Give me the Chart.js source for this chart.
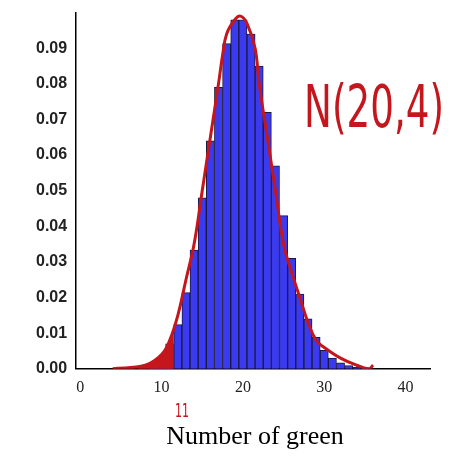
<!DOCTYPE html>
<html><head><meta charset="utf-8">
<script src="https://cdn.jsdelivr.net/npm/chart.js@4"></script>
<style>body{margin:0;background:#fff}#wrap{width:474px;height:458px}</style>
</head><body><div id="wrap"><canvas id="c"></canvas></div>
<script>
// histogram bins (number of green) and their proportions
const bins = [9,10,11,12,13,14,15,16,17,18,19,20,21,22,23,24,25,26,27,28,29,30,31,32,33,34,35];
const freq = [0.001,0.003,0.007,0.0124,0.0214,0.0333,0.048,0.064,0.079,0.0913,0.098,0.098,0.094,0.085,0.072,0.057,0.043,0.031,0.021,0.014,0.0088,0.0052,0.003,0.0017,0.0009,0.0004,0.0002];
// hand-drawn normal curve
const curveX = [4,8,10,11,12,13,14,15,16,17,17.5,18,19,19.7,20.5,21.5,22,23,24,25,26,27,28,29,30,32,34,35.5,36];
const curveY = [0,0.001,0.004,0.008,0.015,0.025,0.035,0.05,0.065,0.08,0.088,0.094,0.098,0.099,0.097,0.09,0.08,0.065,0.05,0.035,0.027,0.02,0.013,0.008,0.006,0.003,0.001,0,0.001];
const yTicks = [0,0.01,0.02,0.03,0.04,0.05,0.06,0.07,0.08,0.09];

function squeezed(c, text, x, y, w) {
  const m = c.measureText(text).width;
  c.save(); c.translate(x, y); c.scale(w / m, 1); c.fillText(text, 0, 0); c.restore();
}

const annot = {
  id: 'annot',
  afterDraw(chart) {
    const c = chart.ctx, xs = chart.scales.x, ys = chart.scales.y;
    c.save();
    // red shaded tail
    c.fillStyle = '#c4161c';
    c.beginPath();
    c.moveTo(xs.getPixelForValue(7), ys.getPixelForValue(0));
    for (let i = 0; i < curveX.length; i++) {
      if (curveX[i] >= 7 && curveX[i] <= 11) c.lineTo(xs.getPixelForValue(curveX[i]), ys.getPixelForValue(curveY[i]));
    }
    c.lineTo(xs.getPixelForValue(11.5), ys.getPixelForValue(0.011));
    c.lineTo(xs.getPixelForValue(11.5), ys.getPixelForValue(0));
    c.closePath(); c.fill();
    c.font = '58px "DejaVu Sans", sans-serif';
    c.textAlign = 'left'; c.textBaseline = 'middle';
    squeezed(c, 'N(20,4)', 304, 112, 140);
    c.font = '20px "DejaVu Sans", sans-serif';
    squeezed(c, '11', 175, 412, 14);
    c.fillStyle = '#000';
    c.font = '26px "Liberation Serif", serif';
    c.textAlign = 'center';
    c.fillText('Number of green', 255, 437);
    c.restore();
  }
};

new Chart(document.getElementById('c'), {
  data: {
    datasets: [{
      type: 'line',
      data: curveX.map((x, i) => ({x, y: curveY[i]})),
      borderColor: '#c4161c', borderWidth: 3, pointRadius: 0, tension: 0.4, order: 0
    }, {
      type: 'bar',
      data: bins.map((x, i) => ({x, y: freq[i]})),
      backgroundColor: '#3a3af0', borderColor: '#1a1a3a', borderWidth: 1,
      barPercentage: 1, categoryPercentage: 1, order: 1
    }]
  },
  options: {
    responsive: true, maintainAspectRatio: false, animation: false,
    layout: { padding: { top: 5, right: 44, bottom: 58, left: 33 } },
    plugins: { legend: { display: false }, tooltip: { enabled: false } },
    scales: {
      x: {
        type: 'linear', min: -0.5, max: 43, offset: false,
        grid: { display: false, tickLength: 6 },
        border: { color: '#000', width: 1.5 },
        afterBuildTicks: a => { a.ticks = [0,10,20,30,40].map(v => ({value: v})); },
        ticks: { color: '#222', font: { size: 16, family: 'Liberation Serif' } }
      },
      y: {
        min: 0, max: 0.1,
        grid: { display: false, tickLength: 6 },
        border: { color: '#000', width: 1.5 },
        afterBuildTicks: a => { a.ticks = yTicks.map(v => ({value: v})); },
        ticks: { color: '#222', font: { size: 16, weight: 'bold', family: 'Liberation Sans' }, callback: v => v.toFixed(2) }
      }
    }
  },
  plugins: [annot]
});
</script></body></html>
